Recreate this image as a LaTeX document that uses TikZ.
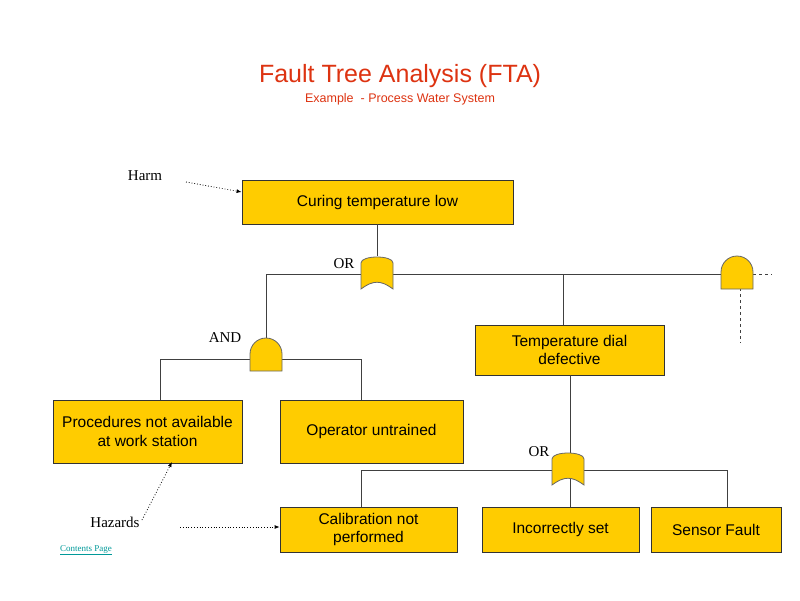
\documentclass[tikz,border=0pt]{standalone}
\usepackage{fontspec}
\setmainfont{Liberation Sans}
\newfontfamily\seriff{Liberation Serif}
\usetikzlibrary{arrows.meta}
\definecolor{boxy}{HTML}{FFCC00}
\definecolor{titr}{HTML}{DD3311}
\definecolor{linkc}{HTML}{009999}
\begin{document}
\begin{tikzpicture}[x=1pt,y=-1pt,
  box/.style={draw=black!80,fill=boxy,line width=0.8pt,align=center,font=\fontsize{15.5}{18.5}\selectfont,inner sep=0pt},
  lbl/.style={font=\seriff\fontsize{15}{17}\selectfont},
  gatef/.style={draw=black!60,fill=boxy,line width=0.8pt},
  wire/.style={draw=black!75,line width=0.8pt},
  ptr/.style={dotted,line width=0.8pt,-{Latex[length=5pt,width=4pt]}}]
\useasboundingbox (0,0) rectangle (800,600);
\node[font=\fontsize{25}{29}\selectfont,text=titr] (title) at (400,76) {Fault Tree Analysis (FTA)};
\node[font=\fontsize{12.5}{14}\selectfont,text=titr] (sub) at (400,99) {Example\ \ - Process Water System};
% boxes
\node[box,minimum width=271,minimum height=44] (top) at (377.5,202) {Curing temperature low};
\node[box,minimum width=189,minimum height=50] (dial) at (569.5,350) {Temperature dial\\defective};
\node[box,minimum width=189,minimum height=63] (proc) at (147.5,431.5) {Procedures not available\\at work station};
\node[box,minimum width=183,minimum height=63] (oper) at (371.5,431.5) {Operator untrained};
\node[box,minimum width=177,minimum height=45] (cal) at (368.5,529.5) {Calibration not\\performed};
\node[box,minimum width=157,minimum height=45] (inc) at (560.5,529.5) {Incorrectly set};
\node[box,minimum width=130,minimum height=45] (sen) at (716,529.5) {Sensor Fault};
% coordinates
\coordinate (g1t) at (377,256);
\coordinate (g1l) at (266,274);
\coordinate (g1r) at (721,274);
\coordinate (dj) at (563,274);
\coordinate (g2t) at (266,338);
\coordinate (g2l) at (160,359);
\coordinate (g2r) at (361,359);
\coordinate (g3t) at (570,452);
\coordinate (g3l) at (361,470);
\coordinate (g3r) at (727,470);
\coordinate (dashr) at (772,274);
\coordinate (dashb) at (740,343);
% wires
\draw[wire] (top.south -| g1t) -- (g1t);
\draw[wire] (g1t |- g1l) -- (g1l) -- (g2t);
\draw[wire] (g1t |- g1l) -- (g1r);
\draw[wire] (dj) -- (dj |- dial.north);
\draw[wire] (g2l) -- (g2r);
\draw[wire] (g2l) -- (g2l |- proc.north);
\draw[wire] (g2r) -- (g2r |- oper.north);
\draw[wire] (dial.south -| g3t) -- (g3t);
\draw[wire] (g3t) -- (g3t |- inc.north);
\draw[wire] (g3l) -- (g3r);
\draw[wire] (g3l) -- (g3l |- cal.north);
\draw[wire] (g3r) -- (g3r |- sen.north);
\draw[wire,dashed] (753,274) -- (dashr);
\draw[wire,dashed] (740,288) -- (dashb);
% OR gates
\foreach \cx/\ty in {377/256, 568/452}{
  \draw[gatef] (\cx-16,\ty+7) .. controls (\cx-16,\ty-1) and (\cx+16,\ty-1) .. (\cx+16,\ty+7)
     -- (\cx+16,\ty+33) .. controls (\cx+4,\ty+24) and (\cx-4,\ty+24) .. (\cx-16,\ty+33) -- cycle;
}
% AND gates
\foreach \cx/\ty in {737/256, 266/338}{
  \draw[gatef] (\cx-16,\ty+33) -- (\cx-16,\ty+16) arc[start angle=180,end angle=360,radius=16] -- (\cx+16,\ty+33) -- cycle;
}
% labels
\node[lbl] (harm) at (145,176) {Harm};
\node[lbl] (andl) at (225,338) {AND};
\node[lbl] (or1) at (344,264) {OR};
\node[lbl] (or2) at (539,452) {OR};
\node[lbl] (haz) at (115,522) {Hazards};
\draw[ptr] (186,182) -- (top.west |- 0,192);
\draw[ptr] (180,527) -- (cal.west |- 0,527);
\draw[ptr] (142,520) -- (172,462);
\node[font=\seriff\fontsize{9}{10}\selectfont,text=linkc] (cp) at (86,550) {\underline{Contents Page}};
\end{tikzpicture}
\end{document}
